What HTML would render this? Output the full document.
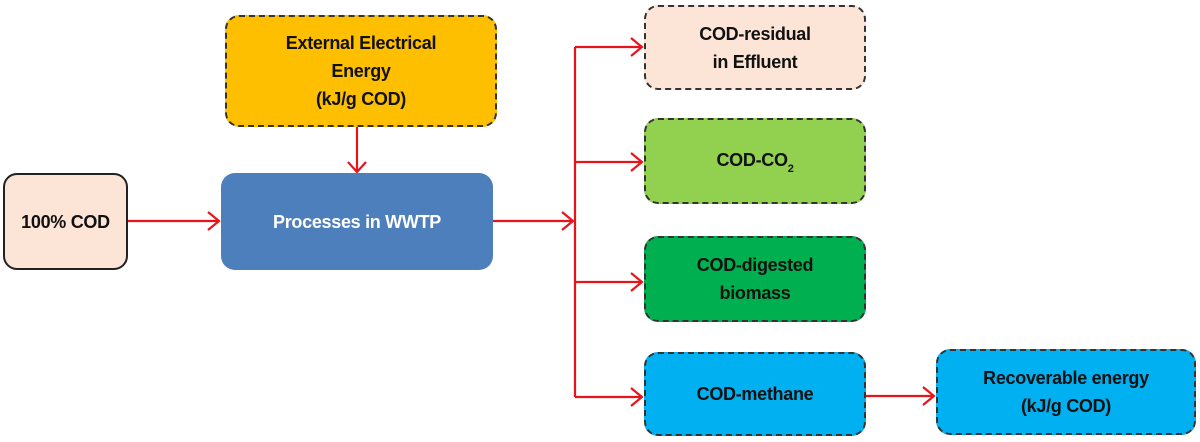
<!DOCTYPE html>
<html><head><style>
body{margin:0;width:1200px;height:442px;background:#fff;overflow:hidden;position:relative;font-family:"Liberation Sans",sans-serif;}
.b{position:absolute;box-sizing:border-box;border-radius:14px;display:flex;align-items:center;justify-content:center;text-align:center;font-weight:bold;font-size:18px;line-height:28px;color:#111;letter-spacing:-0.3px;}
.d{border:2.5px dashed #333;}
svg{position:absolute;left:0;top:0;}
</style></head><body>
<div class="b d" style="left:225px;top:15px;width:272px;height:112px;background:#fdbf00;">External Electrical<br>Energy<br>(kJ/g COD)</div>
<div class="b" style="left:3px;top:173px;width:125px;height:97px;background:#fce4d6;border:2px solid #222;">100% COD</div>
<div class="b" style="left:221px;top:173px;width:272px;height:97px;background:#4e7fbd;color:#fff;">Processes in WWTP</div>
<div class="b d" style="left:644px;top:5px;width:222px;height:85px;background:#fce4d6;">COD-residual<br>in Effluent</div>
<div class="b d" style="left:644px;top:118px;width:222px;height:86px;background:#92d050;"><span>COD-CO<span style="font-size:11px;position:relative;top:6px">2</span></span></div>
<div class="b d" style="left:644px;top:236px;width:222px;height:86px;background:#00b050;">COD-digested<br>biomass</div>
<div class="b d" style="left:644px;top:352px;width:222px;height:84px;background:#00b0f0;">COD-methane</div>
<div class="b d" style="left:936px;top:349px;width:260px;height:86px;background:#00b0f0;">Recoverable energy<br>(kJ/g COD)</div>
<svg width="1200" height="442" fill="none" stroke="#e8141c" stroke-width="2.2">
<path d="M357 127V172M348 162L357 172L366 162"/>
<path d="M128 221H219M208 212L219 221L208 230"/>
<path d="M493 221H573M562 212L573 221L562 230"/>
<path d="M575 47V397"/>
<path d="M575 47H642M631 38L642 47L631 56"/>
<path d="M575 162H642M631 153L642 162L631 171"/>
<path d="M575 282H642M631 273L642 282L631 291"/>
<path d="M575 397H642M631 388L642 397L631 406"/>
<path d="M866 396H934M923 387L934 396L923 405"/>
</svg>
</body></html>
